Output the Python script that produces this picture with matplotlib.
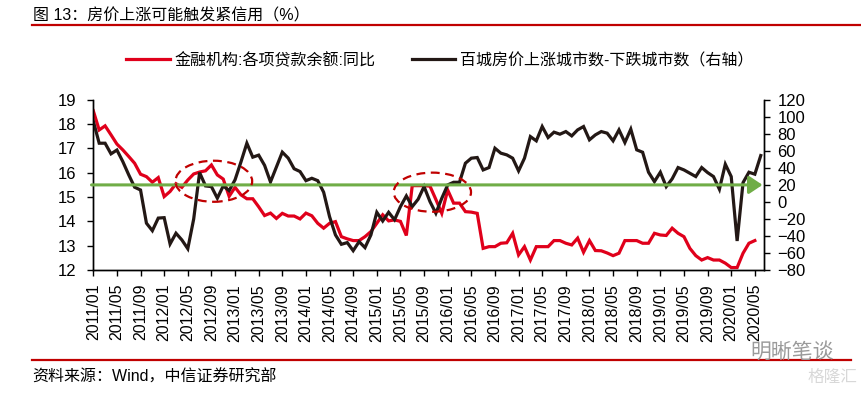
import numpy as np
import pandas as pd
from matplotlib import pyplot as plt
from matplotlib.lines import Line2D
from matplotlib.patches import Ellipse

plt.rcParams['font.family'] = ['Liberation Sans', 'Noto Sans CJK SC']

# monthly data, 2011/01 onwards
loan_growth = [18.55, 17.76, 17.93, 17.56, 17.18, 16.94, 16.67, 16.39, 15.94, 15.84,
               15.61, 15.80, 15.02, 15.23, 15.55, 15.40, 15.70, 15.95, 16.03, 16.08,
               16.32, 15.91, 15.74, 15.03, 15.40, 15.09, 14.93, 14.93, 14.60, 14.24,
               14.34, 14.12, 14.33, 14.22, 14.22, 14.10, 14.34, 14.23, 13.92, 13.72,
               13.92, 13.99, 13.37, 13.28, 13.21, 13.21, 13.37, 13.58, 13.92, 14.27,
               14.02, 14.06, 14.00, 13.42, 15.47, 15.47, 15.47, 15.45, 14.90, 14.33,
               15.29, 14.75, 14.75, 14.40, 14.38, 14.33, 12.89, 12.96, 12.96, 13.10,
               13.12, 13.51, 12.62, 12.96, 12.41, 12.96, 12.96, 12.96, 13.21, 13.21,
               13.10, 13.03, 13.31, 12.73, 13.21, 12.80, 12.79, 12.70, 12.59, 12.69,
               13.21, 13.21, 13.21, 13.10, 13.10, 13.51, 13.44, 13.42, 13.72, 13.51,
               13.37, 12.89, 12.59, 12.41, 12.51, 12.41, 12.41, 12.28, 12.10, 12.10,
               12.69, 13.10, 13.21]

city_diff = [95, 69, 69, 56.5, 61, 47.4, 31.8, 17.3, 14, -25,
             -33.8, -19, -18.5, -49.4, -36.8, -44.7, -55, -20, 34.5, 18.8,
             18, 4.4, 18.8, 13.3, 26, 47, 69, 52.6, 55, 43,
             23.5, 41, 58.5, 51.5, 39, 35.7, 25, 27.8, 25, 11.4,
             -17.3, -38.8, -49.8, -47.8, -57.3, -46.7, -53.7, -38.8, -12.2, -22.4,
             -12.2, -21, -5.5, 7, -5.5, 3.2, 18, 0.4, -13.3, 4.3,
             20, 23.1, 23.1, 45.5, 51.4, 52.2, 37.6, 40.4, 63.1, 57.3,
             55.3, 51.4, 36.5, 51.4, 76.8, 71.8, 88.6, 75.7, 82, 79.6,
             82.7, 77.6, 84.7, 88.6, 73, 78.8, 82.7, 80.8, 71.8, 84.7,
             69.8, 85.5, 61.2, 58.4, 34.9, 23.9, 34.9, 18, 27.1, 40.4,
             37.6, 33.7, 29.8, 40.4, 34.5, 29.8, 14.9, 44.3, 29.8, -45.9,
             22.7, 34.9, 32.6, 54.5]

months = pd.date_range("2011-01-01", periods=len(city_diff), freq="MS")
tick_labels = [d.strftime("%Y/%m") for d in months[::4]]
threshold = 20

red = "#E0001B"
dark = "#231815"
green = "#70AD47"
darkred = "#C00000"

fig = plt.figure(figsize=(8.61, 3.93), dpi=100)
ax1 = fig.add_axes([0.108, 0.313, 0.779, 0.433])
ax2 = ax1.twinx()

x_red = np.arange(len(loan_growth))
x_blk = np.arange(len(city_diff))
ax1.plot(x_red, loan_growth, color=red, lw=2.3, solid_joinstyle="miter")
ax2.plot(x_blk, city_diff, color=dark, lw=2.3, solid_joinstyle="miter")

ax1.set_xlim(-0.05, 113.5)
ax1.set_ylim(12, 19)
ax2.set_ylim(-80, 120)
ax1.set_yticks(range(12, 20))
ax2.set_yticks(range(-80, 121, 20))
ax1.set_xticks(np.arange(0, len(city_diff), 4))
ax1.set_xticklabels(tick_labels, rotation=90)

for a in (ax1, ax2):
	a.spines["top"].set_visible(False)
	for s in a.spines.values():
		s.set_linewidth(1.0)
		s.set_color("black")
ax1.tick_params(axis="y", direction="out", length=4, width=1, labelsize=12, pad=8)
ax2.tick_params(axis="y", direction="out", length=4, width=1, labelsize=12, pad=6)
ax1.tick_params(axis="x", direction="out", length=4, width=1, labelsize=11.5, pad=6)

# green reference arrow at +20 on right axis
ax2.annotate("", xy=(113.3, threshold), xytext=(-0.3, threshold),
	arrowprops=dict(arrowstyle="-|>,head_length=0.45,head_width=0.3", color=green,
		lw=2.2, mutation_scale=18, shrinkA=0, shrinkB=0), zorder=5)

# dashed circles
for cx, cy, w, h in [(20.4, 15.65, 13.0, 1.69), (57.4, 15.2, 13.1, 1.61)]:
	e = Ellipse((cx, cy), w, h, transform=ax1.transData, fill=False,
		edgecolor=darkred, lw=1.6, linestyle=(0, (4, 2.5)), zorder=6)
	ax2.add_patch(e)

handles = [Line2D([], [], color=red, lw=2.3), Line2D([], [], color=dark, lw=2.3)]
labels = ["金融机构:各项贷款余额:同比", "百城房价上涨城市数-下跌城市数（右轴）"]
fig.legend(handles, labels, loc="center", bbox_to_anchor=(0.511, 0.847), ncol=2,
	frameon=False, fontsize=11.5, handlelength=2.7, handletextpad=0.3, columnspacing=2.3)

fig.text(0.038, 0.96, "图 13：房价上涨可能触发紧信用（%）", fontsize=11.5,
	fontweight="medium", va="center", ha="left")
fig.add_artist(Line2D([0.037, 1.0], [0.936, 0.936], color=darkred, lw=1.6,
	transform=fig.transFigure))
fig.add_artist(Line2D([0.037, 0.988], [0.084, 0.084], color=darkred, lw=1.6,
	transform=fig.transFigure))
fig.text(0.038, 0.041, "资料来源：Wind，中信证券研究部", fontsize=11.5, va="center", ha="left")

# watermark
fig.text(0.872, 0.105, "明晰笔谈", fontsize=15, color="#9a9a9a", va="center", ha="left")
fig.text(0.938, 0.04, "格隆汇", fontsize=12, color="#d8d8d8", va="center", ha="left")

fig.savefig("out.png", dpi=100)
